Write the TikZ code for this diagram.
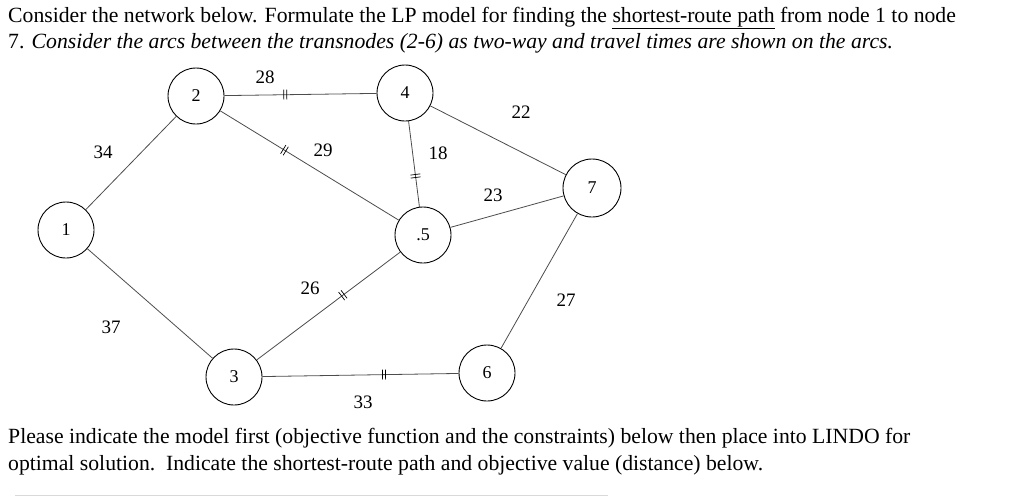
\documentclass[tikz,border=0pt]{standalone}
\usepackage{fontspec}
\setmainfont{Liberation Serif}
\begin{document}
\begin{tikzpicture}[x=1pt,y=-1pt,
  nd/.style={circle,draw,line width=0.9pt,minimum size=56pt,inner sep=0pt,font=\fontsize{18}{20}\selectfont},
  lbl/.style={font=\fontsize{19}{21}\selectfont,inner sep=0pt},
  txt/.style={anchor=base west,inner sep=0pt,font=\fontsize{21.7}{24}\selectfont},
  ed/.style={line width=0.8pt,draw=black!70},
  tk/.style={sloped,inner sep=0pt}]
\useasboundingbox (0,0) rectangle (1024,498);
\node[txt] (t1) at (8,22) {Consider the network below. Formulate the LP model for finding the \underline{shortest-route path} from node 1 to node};
\node[txt] (t2) at (8,48) {7. \textit{Consider the arcs between the transnodes (2-6) as two-way and travel times are shown on the arcs.}};
\node[txt] (t3) at (8,443) {Please indicate the model first (objective function and the constraints) below then place into LINDO for};
\node[txt] (t4) at (8,470) {optimal solution.\ \ Indicate the shortest-route path and objective value (distance) below.};
\coordinate (g1) at (15,495); \coordinate (g2) at (608,495);
\draw[black!15,line width=1pt] (g1)--(g2);
\newcommand{\ticks}{\tikz[baseline=0pt]\draw[line width=0.7pt] (0,-5pt)--(0,5pt) (3pt,-5pt)--(3pt,5pt);}
\node[nd] (n1) at (66,230) {1};
\node[nd] (n2) at (196,96) {2};
\node[nd] (n4) at (405,93) {4};
\node[nd] (n5) at (423,235) {.5};
\node[nd,minimum size=58pt] (n7) at (592,188) {7};
\node[nd] (n3) at (234,377) {3};
\node[nd] (n6) at (487,373) {6};
\draw[ed] (n1)--(n2);
\draw[ed] (n1)--(n3);
\draw[ed] (n2)--(n4) node[tk,pos=0.4]{\ticks};
\draw[ed] (n2)--(n5) node[tk,pos=0.36]{\ticks};
\draw[ed] (n4)--(n5) node[tk,pos=0.64]{\ticks};
\draw[ed] (n4)--(n7);
\draw[ed] (n5)--(n7);
\draw[ed] (n3)--(n5) node[tk,pos=0.6]{\ticks};
\draw[ed] (n3)--(n6) node[tk,pos=0.62]{\ticks};
\draw[ed] (n6)--(n7);
\node[lbl] (l28) at (265,77) {28};
\node[lbl] (l34) at (103,152) {34};
\node[lbl] (l29) at (323,150) {29};
\node[lbl] (l18) at (438,153) {18};
\node[lbl] (l22) at (521,112) {22};
\node[lbl] (l23) at (493,195) {23};
\node[lbl] (l26) at (310,288) {26};
\node[lbl] (l37) at (111,327) {37};
\node[lbl] (l27) at (566,300) {27};
\node[lbl] (l33) at (363,402) {33};
\end{tikzpicture}
\end{document}
